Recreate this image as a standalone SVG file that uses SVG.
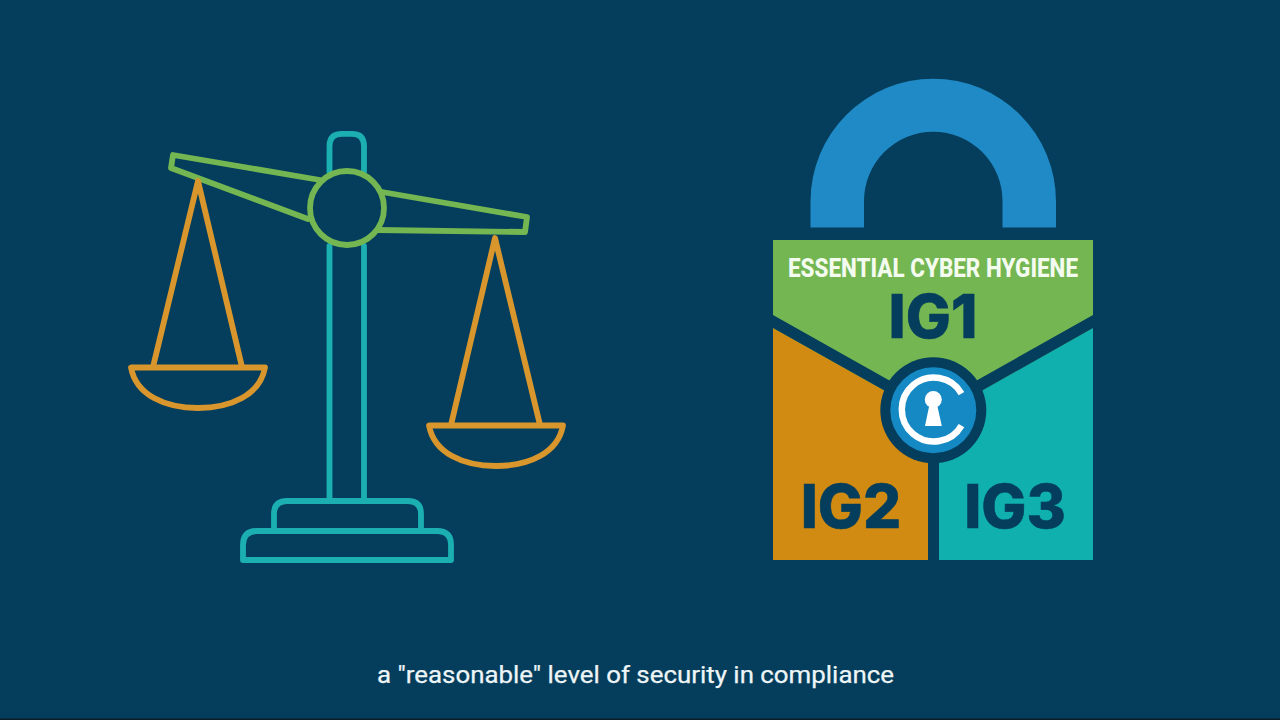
<svg xmlns="http://www.w3.org/2000/svg" width="1280" height="720" viewBox="0 0 1280 720">
<style>
.o{fill:none;stroke-width:5.800;stroke-linejoin:round;stroke-linecap:round}
.t{stroke:#1bafb2}.g{stroke:#74b652}.r{stroke:#d8962c}
.ig{font-family:"Inter","Liberation Sans",sans-serif;font-weight:800;fill:#043e5c;font-size:60px;text-anchor:middle;stroke:#043e5c;stroke-width:.6}
</style>
<rect width="1280" height="720" fill="#043e5c"/>
<rect y="718.500" width="1280" height="1.500" fill="#0b1d28"/>
<g id="scale">
<g id="post">
<path class="o t" d="M329.500 498V246M364 498V246M329.500 172V146Q329.500 133.800 342 133.800H352Q364 133.800 364 146V172"/>
<path class="o t" d="M274 528V514Q274 501 287 501H408Q421 501 421 514V528"/>
<path class="o t" d="M243 560V545Q243 531 257 531H437Q451 531 451 545V560Z"/>
</g>
<g id="beam">
<path class="o g" d="M320 180L173 155L171 168L308 219"/>
<path class="o g" d="M382 192L527 217L525 232L378 230"/>
<circle class="o g" cx="347" cy="208" r="37"/>
</g>
<g id="pan-left">
<path class="o r" d="M153 367L198 181L242 367"/>
<path class="o r" d="M131 367.500H265C260 395 231 408 198 408C165 408 136 395 131 367.500Z"/>
</g>
<g id="pan-right">
<path class="o r" d="M451 425L495 238L540 425"/>
<path class="o r" d="M429 425.500H563C558 453 529 466 496 466C463 466 434 453 429 425.500Z"/>
</g>
</g>
<g id="lock">
<path id="shackle" fill="#1f8ac5" d="M810.500 227.500V201.500A122.750 122.750 0 0 1 1056 201.500V227.500H1002.500V201A69.250 69.250 0 0 0 864 201V227.500Z"/>
<rect id="ig1-panel" x="773" y="240" width="320" height="320" fill="#74b652"/>
<path id="ig2-panel" fill="#d18b12" d="M773 328L933 418V560H773Z"/>
<path id="ig3-panel" fill="#0fb0ad" d="M1093 328L933 418V560H1093Z"/>
<path fill="#043e5c" d="M773 315L933 405L1093 315V328L939 415V560H928V415L773 328Z"/>
<text x="933" y="277" text-anchor="middle" font-family="Roboto,'Liberation Sans',sans-serif" font-weight="800" font-size="26" fill="#f4fbef" textLength="290" lengthAdjust="spacingAndGlyphs">ESSENTIAL CYBER HYGIENE</text>
<text class="ig" x="933" y="338">IG1</text>
<text class="ig" x="851" y="528">IG2</text>
<text class="ig" x="1015" y="528">IG3</text>
<g id="badge">
<circle cx="933.300" cy="410.300" r="53" fill="#043e5c"/>
<circle cx="933.300" cy="410.300" r="43" fill="#1489c4"/>
<path fill="none" stroke="#fff" stroke-width="6.500" d="M961.500 393.500A32 32 0 1 0 961.500 425.500"/>
<circle cx="933.300" cy="399.500" r="8.500" fill="#fff"/>
<path fill="#fff" d="M930 402H936.500L941.800 426H925Z"/>
</g>
</g>
<text id="caption" x="635.500" y="683" text-anchor="middle" font-family="Roboto,'Liberation Sans',sans-serif" font-size="24" font-weight="400" fill="#eef5f7" stroke="#eef5f7" stroke-width=".25" textLength="517" lengthAdjust="spacingAndGlyphs">a "reasonable" level of security in compliance</text>
</svg>
